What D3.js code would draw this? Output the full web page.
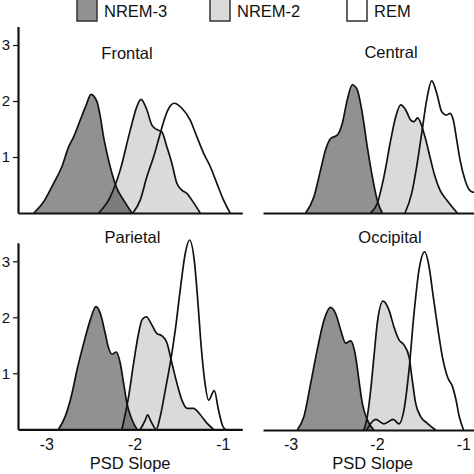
<!DOCTYPE html>
<html>
<head>
<meta charset="utf-8">
<script src="https://cdn.jsdelivr.net/npm/d3@7"></script>
<style>
  body { margin:0; background:#fff; }
  text { font-family: "Liberation Sans", Arial, sans-serif; fill:#111; }
</style>
</head>
<body>
<svg id="chart" width="474" height="474"></svg>
<script>
// stages and panels
var stages = ["NREM-3", "NREM-2", "REM"];
var regions = ["Frontal", "Central", "Parietal", "Occipital"];
var xTicks = [-3, -2, -1];
var yTicks = [1, 2, 3];
var xDomain = [-3.32, -0.78], yMax = 3.33;

// density curves: [psd slope, density]
var frontalN3 = [[-3.14,0],[-3.03,0.2],[-2.917,0.53],[-2.822,0.83],[-2.747,1.18],[-2.69,1.36],[-2.615,1.66],[-2.547,1.93],[-2.494,2.12],[-2.426,1.99],[-2.388,1.72],[-2.351,1.36],[-2.313,1.07],[-2.256,0.71],[-2.2,0.44],[-2.124,0.23],[-2.03,0]];
var frontalN2 = [[-2.407,0],[-2.275,0.29],[-2.162,0.77],[-2.049,1.48],[-1.974,1.9],[-1.928,2.03],[-1.86,1.84],[-1.804,1.57],[-1.747,1.49],[-1.691,1.45],[-1.634,1.18],[-1.578,0.89],[-1.521,0.53],[-1.464,0.41],[-1.408,0.35],[-1.351,0.23],[-1.257,0]];
var frontalREM = [[-2.019,0],[-1.936,0.23],[-1.86,0.65],[-1.785,1.0],[-1.709,1.42],[-1.653,1.72],[-1.596,1.91],[-1.551,1.96],[-1.464,1.87],[-1.37,1.66],[-1.294,1.36],[-1.219,1.07],[-1.143,0.83],[-1.068,0.53],[-0.992,0.23],[-0.917,0]];

var centralN3 = [[-2.827,0],[-2.73,0.29],[-2.653,0.77],[-2.595,1.13],[-2.537,1.33],[-2.46,1.39],[-2.402,1.6],[-2.344,2.02],[-2.286,2.29],[-2.228,2.2],[-2.17,1.78],[-2.112,1.18],[-2.054,0.65],[-1.997,0.23],[-1.939,0]];
var centralN2 = [[-2.073,0],[-1.997,0.17],[-1.919,0.65],[-1.841,1.3],[-1.783,1.72],[-1.725,1.93],[-1.667,1.84],[-1.609,1.66],[-1.571,1.63],[-1.53,1.7],[-1.444,1.36],[-1.386,1.0],[-1.328,0.65],[-1.27,0.41],[-1.192,0.23],[-1.07,0]];
var centralREM = [[-1.675,0],[-1.598,0.35],[-1.54,0.83],[-1.482,1.42],[-1.424,2.02],[-1.366,2.36],[-1.308,2.14],[-1.25,1.81],[-1.192,1.75],[-1.154,1.78],[-1.116,1.66],[-1.076,1.3],[-1.038,0.95],[-0.98,0.59],[-0.942,0.44],[-0.903,0.38],[-0.85,0.36],[-0.75,0.2],[-0.65,0]];

var parietalN3 = [[-2.861,0],[-2.785,0.23],[-2.709,0.64],[-2.652,1.06],[-2.577,1.53],[-2.502,1.95],[-2.437,2.19],[-2.388,2.07],[-2.332,1.71],[-2.294,1.45],[-2.256,1.34],[-2.207,1.38],[-2.162,1.18],[-2.124,0.82],[-2.086,0.46],[-2.029,0.17],[-1.973,0]];
var parietalN2 = [[-2.143,0],[-2.068,0.58],[-2.011,1.18],[-1.955,1.71],[-1.917,1.95],[-1.867,2.01],[-1.803,1.86],[-1.747,1.71],[-1.69,1.67],[-1.633,1.54],[-1.577,1.18],[-1.52,0.82],[-1.464,0.52],[-1.407,0.375],[-1.332,0.375],[-1.256,0.26],[-1.181,0.11],[-1.105,0]];
var parietalREM = [[-1.935,0],[-1.88,0.16],[-1.853,0.26],[-1.82,0.16],[-1.754,0],[-1.709,0.23],[-1.652,0.7],[-1.596,1.18],[-1.539,1.77],[-1.483,2.49],[-1.426,3.14],[-1.377,3.38],[-1.32,2.96],[-1.282,2.25],[-1.245,1.47],[-1.207,0.88],[-1.162,0.52],[-1.097,0.69],[-1.049,0.34],[-1.0,0.05],[-0.973,0]];

var occipitalN3 = [[-2.923,0],[-2.846,0.24],[-2.768,0.83],[-2.692,1.43],[-2.614,1.96],[-2.537,2.19],[-2.479,2.08],[-2.421,1.79],[-2.363,1.55],[-2.305,1.59],[-2.247,1.31],[-2.209,0.89],[-2.17,0.48],[-2.112,0.18],[-2.035,0]];
var occipitalN2 = [[-2.151,0],[-2.112,0.24],[-2.073,0.71],[-2.035,1.31],[-1.997,1.9],[-1.93,2.3],[-1.861,2.14],[-1.803,1.84],[-1.745,1.61],[-1.687,1.52],[-1.629,1.31],[-1.591,0.89],[-1.552,0.48],[-1.494,0.24],[-1.417,0.12],[-1.32,0]];
var occipitalREM = [[-2.12,0],[-2.015,0.19],[-1.919,0.11],[-1.811,0.19],[-1.745,0.11],[-1.687,0.36],[-1.629,1.07],[-1.571,2.08],[-1.513,2.86],[-1.447,3.18],[-1.397,2.92],[-1.348,2.38],[-1.293,1.79],[-1.243,1.31],[-1.184,0.95],[-1.124,0.77],[-1.085,0.54],[-1.047,0.24],[-0.997,0]];

var stageFill = {"NREM-3": "rgba(0,0,0,0.43)", "NREM-2": "rgba(0,0,0,0.145)", "REM": "#fff"};
var legendFill = {"NREM-3": "#919191", "NREM-2": "#dadada", "REM": "#fff"};

var panels = [
  {name: "Frontal",   curves: {"REM": frontalREM, "NREM-2": frontalN2, "NREM-3": frontalN3},     x0: 18,  x1: 242.3, base: 213,   tx: 127,   ty: 59,  yAxis: true,  xLab: false},
  {name: "Central",   curves: {"REM": centralREM, "NREM-2": centralN2, "NREM-3": centralN3},     x0: 263, x1: 482.3, base: 213,   tx: 391,   ty: 58,  yAxis: false, xLab: false},
  {name: "Parietal",  curves: {"REM": parietalREM, "NREM-2": parietalN2, "NREM-3": parietalN3},  x0: 18,  x1: 242.3, base: 429.3, tx: 132.5, ty: 243, yAxis: true,  xLab: true},
  {name: "Occipital", curves: {"REM": occipitalREM, "NREM-2": occipitalN2, "NREM-3": occipitalN3}, x0: 263, x1: 482.3, base: 430, tx: 390,   ty: 243, yAxis: false, xLab: true}
];

var svg = d3.select("#chart");
svg.append("rect").attr("width", 474).attr("height", 474).attr("fill", "#fff");

var drawOrder = ["REM", "NREM-2", "NREM-3"];

panels.forEach(function(p) {
    var x = d3.scaleLinear().domain(xDomain).range([p.x0, p.x1]);
    var y = d3.scaleLinear().domain([0, yMax]).range([p.base, p.base - yMax * 56]);
    var g = svg.append("g");

    var area = d3.area()
        .curve(d3.curveMonotoneX)
        .x(function(d) { return x(d[0]); })
        .y0(y(0))
        .y1(function(d) { return y(d[1]); });
    var line = d3.line()
        .curve(d3.curveMonotoneX)
        .x(function(d) { return x(d[0]); })
        .y(function(d) { return y(d[1]); });

    // fills first, then outlines on top
    drawOrder.forEach(function(s) {
        g.append("path").attr("d", area(p.curves[s])).attr("fill", stageFill[s]);
    });
    drawOrder.forEach(function(s) {
        g.append("path").attr("d", line(p.curves[s]))
            .attr("fill", "none").attr("stroke", "#111").attr("stroke-width", 1.7);
    });

    // x axis
    var xa = g.append("g").attr("transform", "translate(0," + y(0) + ")")
        .call(d3.axisBottom(x).tickValues(xTicks).tickSize(0).tickPadding(9)
              .tickFormat(p.xLab ? function(d) { return String(d); } : function() { return ""; }));
    xa.select(".domain").attr("stroke", "#111").attr("stroke-width", 2.2);
    xa.selectAll("text").style("font-size", "16px").attr("fill", "#111")
        .style("font-family", '"Liberation Sans", Arial, sans-serif');

    if (p.yAxis) {
        var ya = g.append("g").attr("transform", "translate(" + p.x0 + ",0)")
            .call(d3.axisLeft(y).tickValues(yTicks).tickFormat(d3.format("d"))
                  .tickSize(5).tickSizeOuter(0).tickPadding(3));
        ya.select(".domain").attr("stroke", "#111").attr("stroke-width", 2.2);
        ya.selectAll(".tick line").attr("stroke", "#111").attr("stroke-width", 1.2);
        ya.selectAll("text").style("font-size", "15px").attr("fill", "#111")
            .style("font-family", '"Liberation Sans", Arial, sans-serif');
    }

    g.append("text").attr("x", p.tx).attr("y", p.ty).attr("text-anchor", "middle")
        .style("font-size", "16.5px").text(p.name);

    if (p.xLab) {
        g.append("text").attr("x", (p.x0 + p.x1) / 2).attr("y", 469)
            .attr("text-anchor", "middle").style("font-size", "16.5px").text("PSD Slope");
    }
});

// legend
var legX = [77, 210, 347];
var leg = svg.append("g");
stages.forEach(function(s, i) {
    leg.append("rect").attr("x", legX[i]).attr("y", -1).attr("width", 20).attr("height", 22)
        .attr("fill", legendFill[s]).attr("stroke", "#333").attr("stroke-width", 1.5);
    leg.append("text").attr("x", legX[i] + 27).attr("y", 17.3)
        .style("font-size", "16.5px").text(s);
});
</script>
</body>
</html>
